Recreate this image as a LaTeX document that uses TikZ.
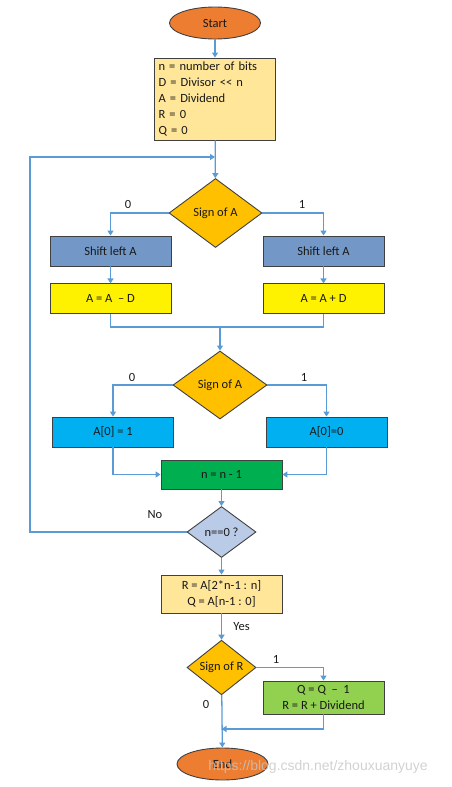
\documentclass[tikz,border=0pt]{standalone}
\usepackage{fontspec}
\setmainfont{Carlito}
\newfontfamily\wmfont{Liberation Sans}
\usetikzlibrary{arrows.meta,shapes,positioning,calc}
\definecolor{linkblue}{HTML}{5B9BD5}
\definecolor{edgegray}{HTML}{404040}
\definecolor{startfill}{HTML}{ED7D31}
\definecolor{initfill}{HTML}{FFE699}
\definecolor{signfill}{HTML}{FFC000}
\definecolor{shiftfill}{HTML}{7398C8}
\definecolor{cyanfill}{HTML}{00B0F0}
\definecolor{decfill}{HTML}{00B050}
\definecolor{checkfill}{HTML}{B9CBE6}
\definecolor{fixfill}{HTML}{92D050}
\tikzset{
    base/.style={draw=edgegray, line width=0.9pt, text=black!90, font=\fontsize{12.5}{15.8}\selectfont},
    terminal/.style={base, ellipse, fill=startfill, minimum width=91pt, minimum height=32pt, inner sep=0pt},
    process/.style={base, rectangle, minimum width=121pt, minimum height=30pt, inner sep=2pt, align=center},
    decision/.style={base, diamond, fill=signfill, inner sep=0pt},
    line/.style={draw=linkblue, line width=1.3pt},
    flow/.style={line, -{Triangle[length=5pt, width=6pt]}},
    branch/.style={font=\fontsize{12.5}{14}\selectfont, text=black!90},
    watermark/.style={font=\wmfont\fontsize{14}{16}\selectfont, text=gray!45, opacity=0.8}
}
\begin{document}
\begin{tikzpicture}[x=1pt, y=-1pt]
\useasboundingbox (0,0) rectangle (451,787);

% main column
\node[terminal] (start) at (215,23) {Start};
\node[process, fill=initfill, minimum height=82pt, text width=113pt, align=left, inner sep=4pt] (init) at (215,99)
    {n = number of bits\\D = Divisor {<}{<} n\\A = Dividend\\R = 0\\Q = 0};
\node[decision, minimum width=93pt, minimum height=69pt] (sign1) at (215.5,213) {Sign of A};

% first branch
\node[process, fill=shiftfill] (shiftL) at (110.5,251) {Shift left A};
\node[process, fill=shiftfill] (shiftR) at (323.5,251) {Shift left A};
\node[process, fill=yellow, below=17pt of shiftL] (subL) {A = A \ -- D};
\node[process, fill=yellow, below=17pt of shiftR] (addR) {A = A + D};
\coordinate (merge) at (220,327);

% second branch
\node[decision, minimum width=94pt, minimum height=68pt] (sign2) at (220,385) {Sign of A};
\node[process, fill=cyanfill] (setOne) at (113,432) {A[0] = 1};
\node[process, fill=cyanfill] (setZero) at (326.5,432) {A[0]=0};
\node[process, fill=decfill, minimum height=29pt] (dec) at (221.5,474.5) {n = n - 1};
\node[decision, fill=checkfill, minimum width=69pt, minimum height=51pt] (check) at (221.5,532) {n==0 ?};
\coordinate (loopturn) at (30,157);
\coordinate (loopin) at (215,157);

% result
\node[process, fill=initfill, minimum height=38pt, inner sep=1pt] (result) at (221.5,594)
    {R = A[2*n-1 : n]\\Q = A[n-1 : 0]};
\node[decision, minimum width=69pt, minimum height=51pt] (signR) at (221.5,667.5) {Sign of R};
\node[process, fill=fixfill, minimum height=33pt, inner sep=1pt] (fix) at (323.5,697.5)
    {Q = Q \ -- \ 1\\R = R + Dividend};
\coordinate (join) at (221.5,729);
\node[terminal] (end) at (222.5,764) {End};

% labels
\node[branch] (s1zero) at (128,204) {0};
\node[branch] (s1one) at (302,204) {1};
\node[branch] (s2zero) at (132,377) {0};
\node[branch] (s2one) at (304,377) {1};
\node[branch] (no) at (155,515) {No};
\node[branch] (yes) at (241.5,627) {Yes};
\node[branch] (sRone) at (276,659) {1};
\node[branch] (sRzero) at (206,704) {0};

% connectors
\draw[flow] (start) -- (init);
\draw[flow] (init) -- (sign1);
\draw[flow] (sign1.west) -| (shiftL);
\draw[flow] (sign1.east) -| (shiftR);
\draw[flow] (shiftL) -- (subL);
\draw[flow] (shiftR) -- (addR);
\draw[line] (subL) |- (merge);
\draw[line] (addR) |- (merge);
\draw[flow] (merge) -- (sign2);
\draw[flow] (sign2.west) -| (setOne);
\draw[flow] (sign2.east) -| (setZero);
\draw[flow] (setOne) |- (dec);
\draw[flow] (setZero) |- (dec);
\draw[flow] (dec) -- (check);
\draw[flow] (check.west) -| (loopturn) -- (loopin);
\draw[flow] (check) -- (result);
\draw[flow] (result) -- (signR);
\draw[flow] (signR.east) -| (fix);
\draw[flow] (fix) |- (join);
\draw[flow] (signR) -- (end);

\node[watermark] (wm) at (318,767) {https://blog.csdn.net/zhouxuanyuye};
\end{tikzpicture}
\end{document}
